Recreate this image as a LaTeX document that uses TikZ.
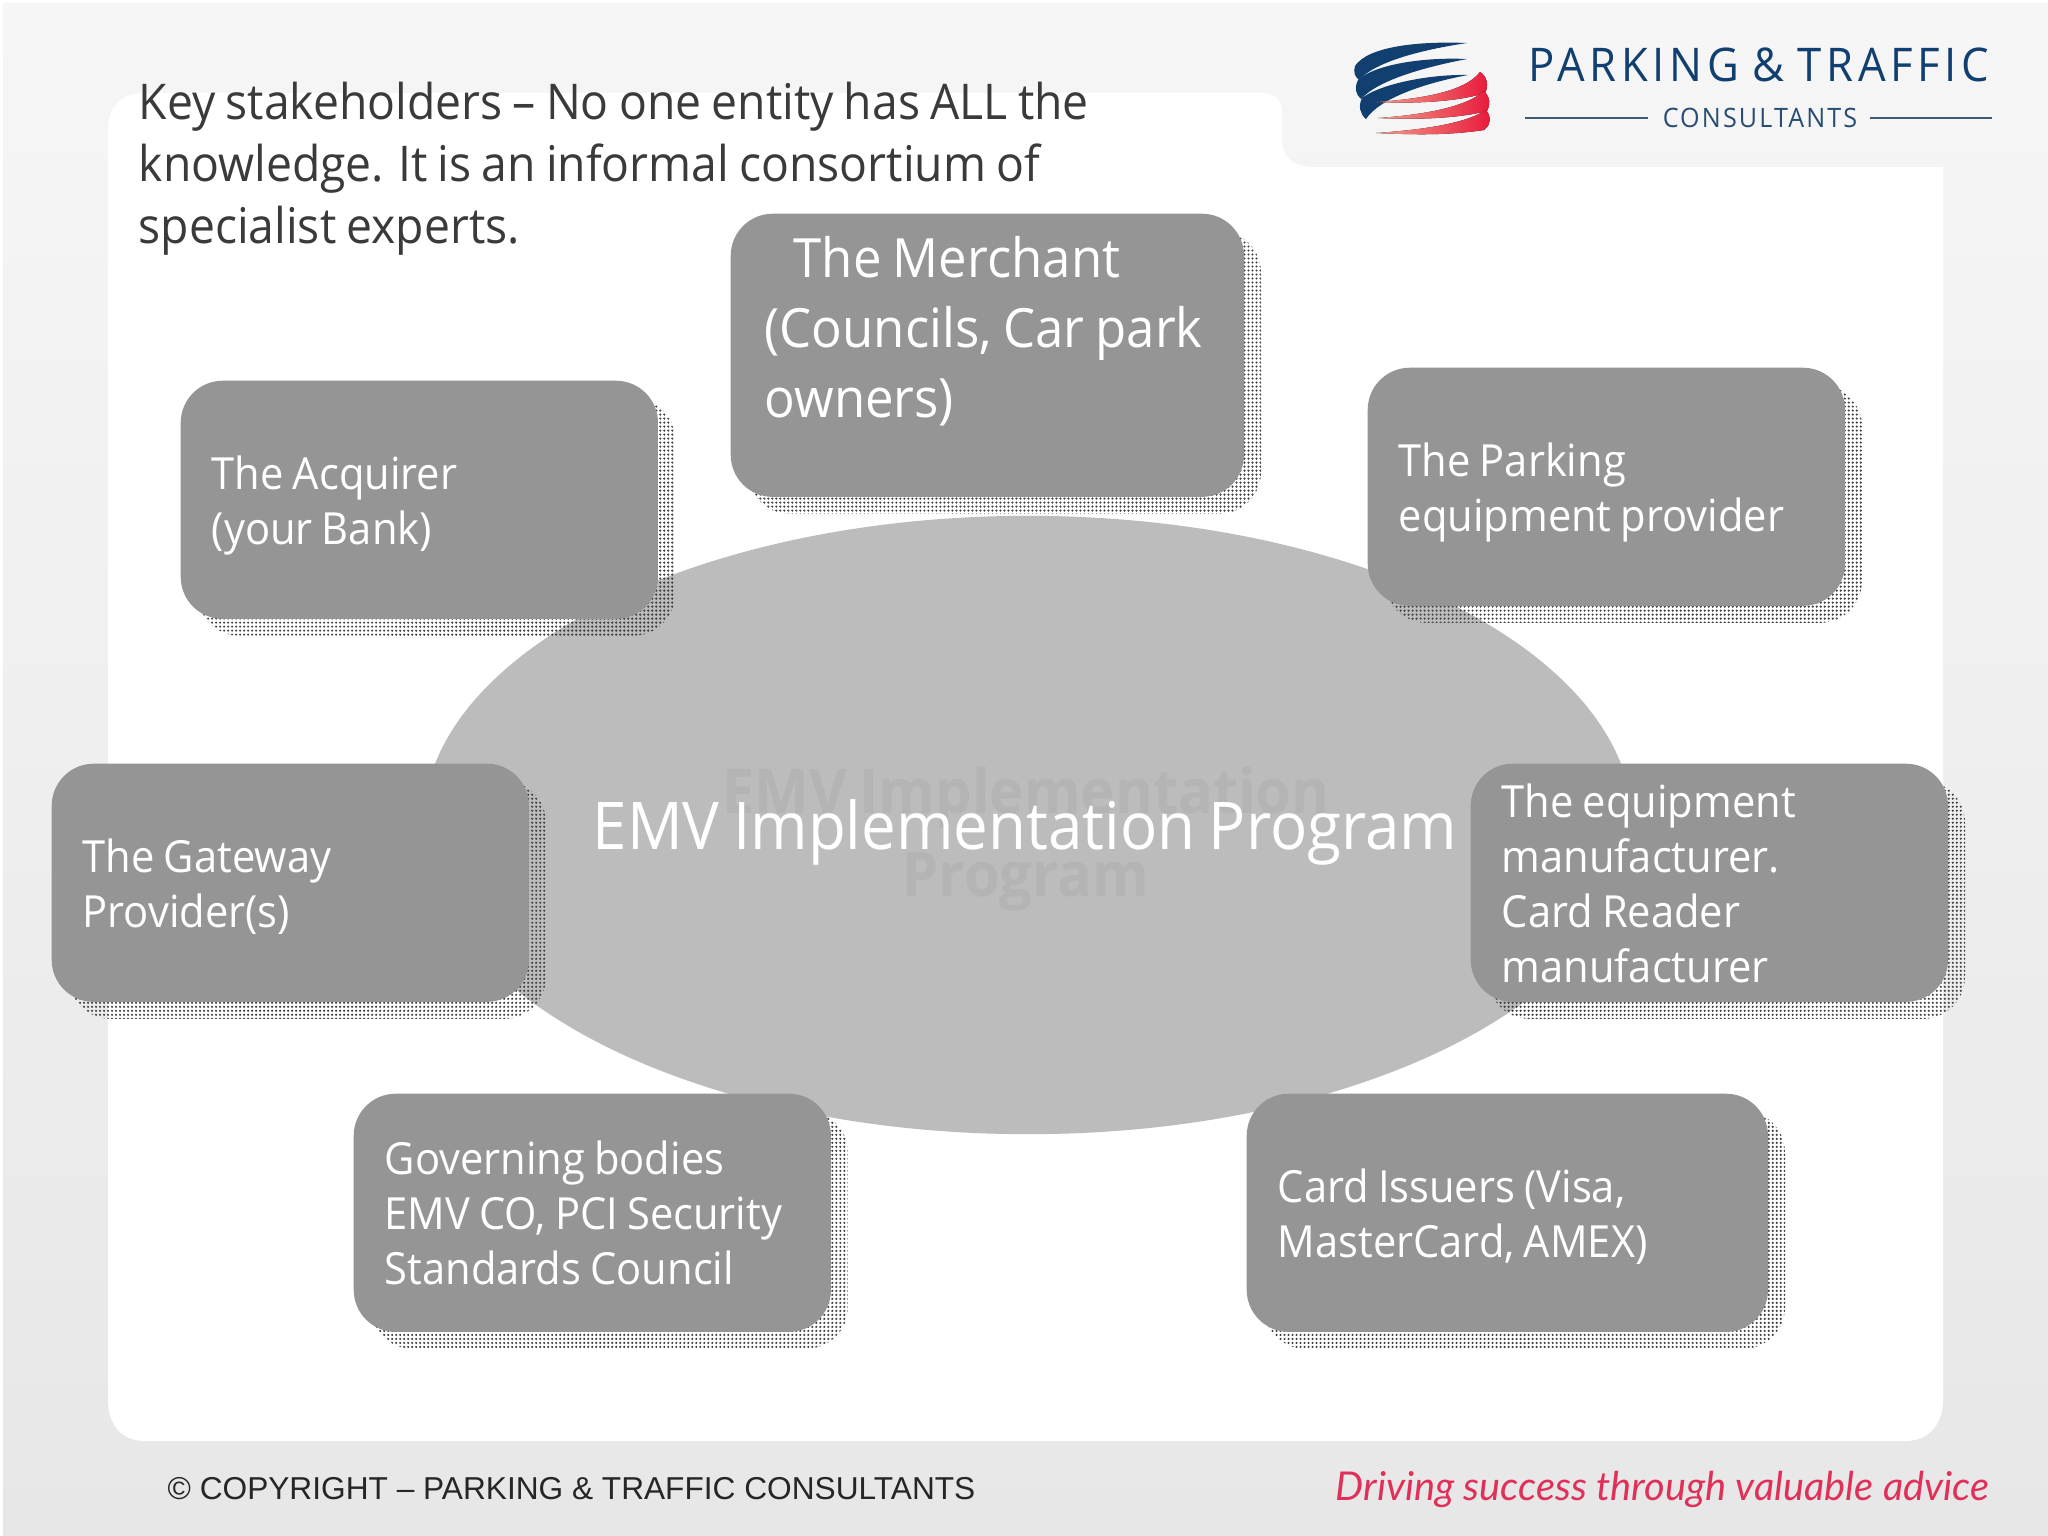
\documentclass[tikz,border=0pt]{standalone}
\usepackage{fontspec}
\setmainfont[FakeStretch=0.94,WordSpace=0.85]{Open Sans}
\newfontfamily\copyfont{Liberation Sans}
\newfontfamily\handfont{Lato}
\usetikzlibrary{shadows,patterns.meta,shapes.geometric}
\definecolor{pagetop}{HTML}{F6F6F6}
\definecolor{pagebottom}{HTML}{E7E7E7}
\definecolor{boxgray}{HTML}{959595}
\definecolor{ovalgray}{HTML}{BCBCBC}
\definecolor{ghostgray}{HTML}{B4B4B4}
\definecolor{introgray}{HTML}{3A3A3A}
\definecolor{logoblue}{HTML}{114070}
\definecolor{logored}{HTML}{E8193C}
\definecolor{logopale}{HTML}{F4A08C}
\definecolor{tagred}{HTML}{E0305A}
\tikzset{
  stakebox/.style={rectangle, rounded corners=0.42cm, fill=boxgray, text=white, align=flush left,
    inner ysep=0pt, inner xsep=0.31cm, anchor=north west, minimum height=2.38cm, text width=4.15cm,
    font=\fontsize{12.6}{15.65}\selectfont,
    execute at begin node=\rule{0pt}{14.4pt}, execute at end node=\strut,
    drop shadow={shadow xshift=0.17cm, shadow yshift=-0.17cm, opacity=1, fill=none,
      pattern={Dots[distance=0.04cm, radius=0.012cm]}, pattern color=black!75}},
  swoosh/.style={draw=none, fill=logoblue},
  redswoosh/.style={draw=none, left color=logopale, right color=logored}
}
\begin{document}
\begin{tikzpicture}[x=0.01cm, y=-0.01cm]
\useasboundingbox (0,0) rectangle (2048,1535);
% Page and white panel
\fill[white] (0,0) rectangle (2048,1535);
\shade[top color=pagetop, bottom color=pagebottom] (3,3) rectangle (2048,1535);
\fill[white] (108,130) .. controls (108,107) and (120,93) .. (145,93) -- (1260,93)
  .. controls (1278,93) and (1282,100) .. (1282,115) -- (1282,140)
  .. controls (1282,158) and (1295,167) .. (1315,167) -- (1943,167) -- (1943,1400)
  .. controls (1943,1425) and (1928,1441) .. (1905,1441) -- (145,1441)
  .. controls (122,1441) and (108,1425) .. (108,1400) -- cycle;

% Intro text
\node[anchor=north west, inner sep=0pt, align=left, text=introgray,
  font=\fontsize{14}{17.65}\selectfont] (intro) at (138,81)
  {Key stakeholders – No one entity has ALL the\\knowledge. It is an informal consortium of\\specialist experts.};

% Central oval
\node[ellipse, fill=ovalgray, inner sep=0pt, minimum width=12.09cm, minimum height=6.18cm] (oval) at (1028,825) {};
\node[align=center, text=ghostgray, font=\fontsize{17.5}{23.5}\selectfont\bfseries] (ghost) at (1026,839) {EMV Implementation\\Program};

% Stakeholders
\node[stakebox] (acquirer) at (180,380) {The Acquirer\\(your Bank)};
\node[stakebox, minimum height=2.83cm, text width=4.45cm, inner xsep=0.34cm, font=\fontsize{15.4}{19.9}\selectfont] (merchant) at (730,213)
  {\hspace*{0.29cm}The Merchant\\(Councils, Car park\\owners)\\[-0.25cm]\mbox{}};
\node[stakebox] (parking) at (1367,367) {The Parking\\equipment provider};
\node[stakebox] (gateway) at (51,763) {The Gateway\\Provider(s)};
\node[stakebox] (equipment) at (1470,763) {The equipment\\manufacturer.\\Card Reader\\manufacturer};
\node[stakebox] (governing) at (353,1093) {Governing bodies\\EMV CO, PCI Security\\Standards Council};
\node[stakebox, text width=4.59cm] (issuers) at (1246,1093) {Card Issuers (Visa,\\MasterCard, AMEX)};

% Program title
\node[text=white, inner sep=0pt, font=\fontsize{18.7}{22}\selectfont] (program) at (1025,832) {EMV Implementation Program};

% Logo swooshes
\fill[swoosh] (1467,43) .. controls (1420,41) and (1368,46) .. (1355,66) .. controls (1353,72) and (1355,77) .. (1359,80)
  .. controls (1375,62) and (1420,50) .. (1467,43) -- cycle;
\fill[swoosh] (1467,59) .. controls (1425,57) and (1375,64) .. (1358,80) .. controls (1354,88) and (1356,95) .. (1361,99)
  .. controls (1378,80) and (1425,67) .. (1467,59) -- cycle;
\fill[swoosh] (1468,75) .. controls (1430,74) and (1380,84) .. (1362,98) .. controls (1358,106) and (1360,114) .. (1366,119)
  .. controls (1380,98) and (1425,83) .. (1468,75) -- cycle;
\fill[redswoosh] (1376,102) .. controls (1420,99) and (1465,92) .. (1480,72) .. controls (1487,76) and (1489,86) .. (1485,93)
  .. controls (1460,101) and (1420,104) .. (1376,102) -- cycle;
\fill[redswoosh] (1378,118) .. controls (1420,115) and (1465,108) .. (1484,91) .. controls (1491,98) and (1490,106) .. (1487,111)
  .. controls (1460,118) and (1420,120) .. (1378,118) -- cycle;
\fill[redswoosh] (1376,133) .. controls (1420,130) and (1465,124) .. (1486,110) .. controls (1492,117) and (1490,126) .. (1484,130)
  .. controls (1450,135) and (1420,135) .. (1376,133) -- cycle;

% Logo lettering
\node[text=logoblue, inner sep=0pt, font=\addfontfeature{LetterSpace=10}\fontsize{13.2}{16}\selectfont] (brand) at (1759,65) {PARKING \& TRAFFIC};
\node[text=logoblue!80!gray, inner sep=0pt, font=\addfontfeature{LetterSpace=8}\fontsize{7.6}{9}\selectfont] (consultants) at (1760,118) {CONSULTANTS};
\coordinate (ruleA) at (1525,118);
\coordinate (ruleB) at (1992,118);
\coordinate (ruleC) at (1648,118);
\coordinate (ruleD) at (1870,118);
\draw[logoblue!60!gray, line width=0.5pt] (ruleA) -- (ruleC);
\draw[logoblue!60!gray, line width=0.5pt] (ruleD) -- (ruleB);

% Footer
\node[anchor=west, inner sep=0pt, text=black!85, font=\copyfont\fontsize{9}{11}\selectfont] (copyright) at (167,1489) {© COPYRIGHT – PARKING \& TRAFFIC CONSULTANTS};
\node[anchor=west, inner sep=0pt, text=tagred, font=\handfont\itshape\fontsize{11.3}{13}\selectfont] (tagline) at (1335,1489) {Driving success through valuable advice};
\end{tikzpicture}
\end{document}
